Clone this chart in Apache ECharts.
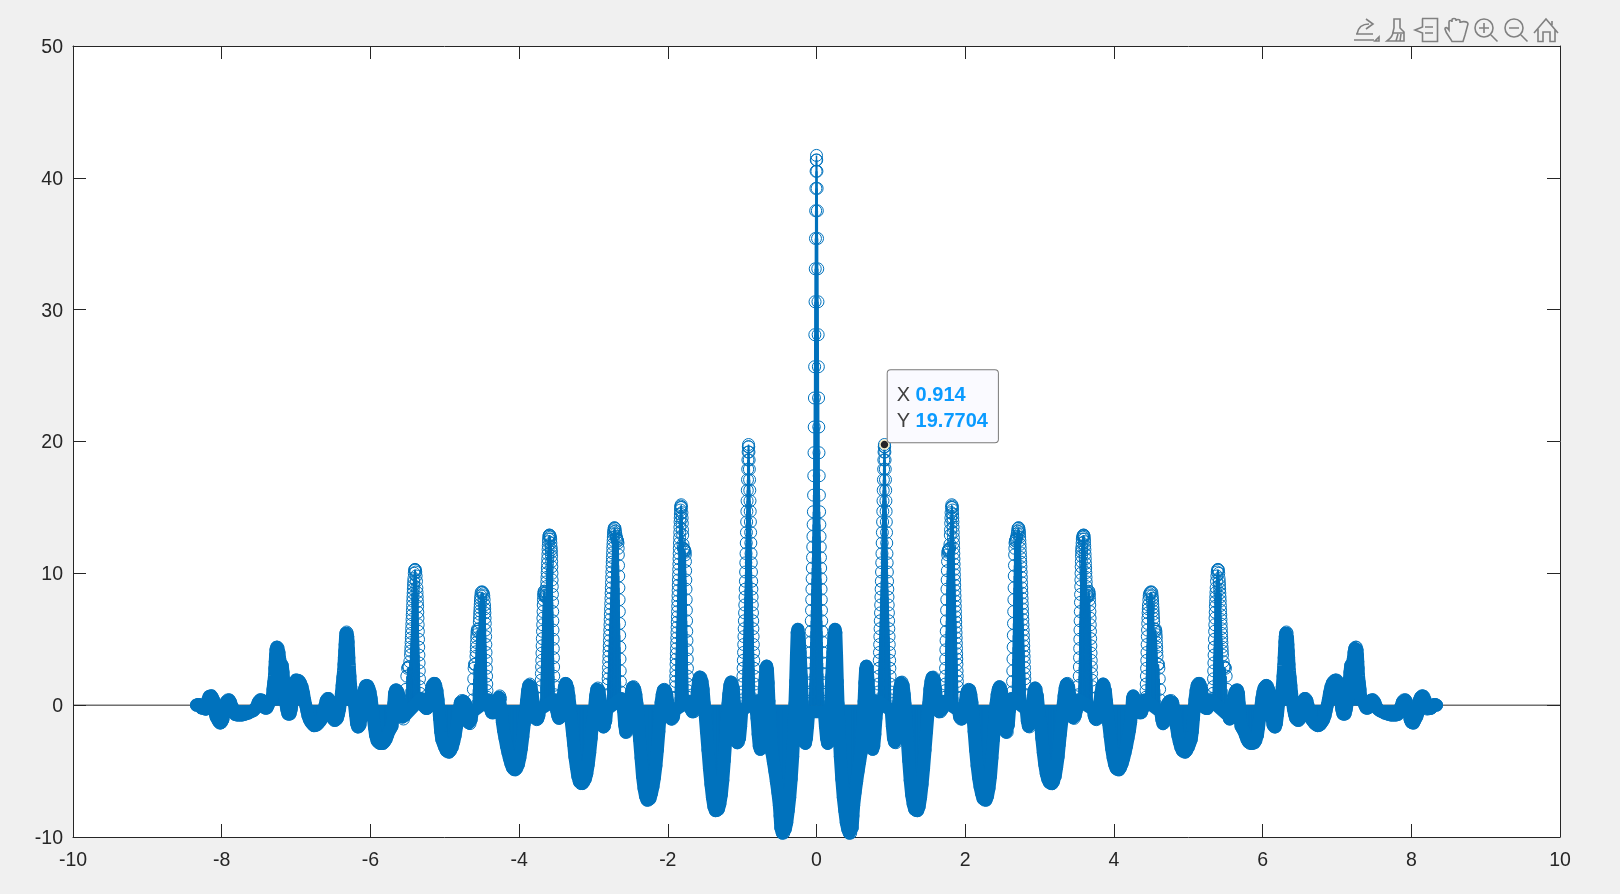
<!DOCTYPE html>
<html>
<head>
<meta charset="utf-8">
<title>stem</title>
<script src="https://cdn.jsdelivr.net/npm/echarts@6/dist/echarts.min.js"></script>
<style>
  html, body { margin: 0; padding: 0; background: #f0f0f0; }
  #main { width: 1620px; height: 894px; }
</style>
</head>
<body>
<div id="main"></div>
<script>
// values, right half only, the plot is mirrored around x = 0
const spike0 = [[0,41.7],[.0028,41.35],[.0056,40.5],[.0084,39.2],[.0112,37.5],[.014,35.4],[.0168,33.1],[.0196,30.6],[.0224,28.1],[.0252,25.67],[.028,23.3],[.0308,21.1],[.0336,19.15],[.0364,17.4],[.0392,15.93],[.042,14.67],[.0448,13.7],[.0476,12.8],[.0504,12],[.0532,11.2],[.056,10.4],[.0588,9.6],[.0616,8.8],[.0644,8],[.0672,7.2],[.07,6.4],[.0728,5.6],[.0756,4.8],[.0784,4],[.0812,3.2],[.084,2.4],[.087,1.7],[.09,1],[.095,.3]];
const valley0 = [[.105,-.5],[.12,-1.6],[.135,-2.5],[.15,-2.9],[.165,-2.5],[.18,-1.2],[.19,.2],[.205,2.2],[.22,4],[.235,5.2],[.25,5.75],[.26,5.5],[.27,3.8],[.28,1.8],[.29,.1],[.30,-1.5],[.32,-3.9],[.34,-5.6],[.36,-7],[.38,-8],[.40,-8.9],[.42,-9.4],[.44,-9.7],[.46,-9.7],[.48,-9.3],[.49,-8.4],[.50,-7.6],[.52,-6.6],[.54,-5.8],[.56,-5],[.58,-4.3],[.60,-3.6],[.615,-2.2],[.63,-.6],[.64,.3],[.65,1.7],[.66,2.7],[.67,2.96],[.68,2.8],[.695,1.8],[.71,.3],[.725,-1.4],[.74,-2.8],[.755,-3.35],[.77,-3.1],[.785,-2.2],[.80,-1],[.815,-.2],[.825,.3]];
const spike1 = [[.83,.4],[.8328,1],[.8356,1.6],[.8384,2.2],[.8412,2.8],[.844,3.4],[.8468,4],[.8496,4.6],[.8524,5.2],[.8552,5.8],[.858,6.4],[.8608,7],[.8636,7.6],[.8664,8.2],[.8692,8.8],[.872,9.4],[.8748,10.1],[.8776,10.8],[.8804,11.5],[.8832,12.3],[.886,13.1],[.8888,13.9],[.8916,14.7],[.8944,15.5],[.8972,16.3],[.9,17.1],[.9028,17.9],[.9056,18.6],[.9084,19.2],[.9112,19.6],[.914,19.77],[.9168,19.6],[.9196,19.2],[.9224,18.6],[.9252,17.9],[.928,17.1],[.9308,16.3],[.9336,15.5],[.9364,14.7],[.9392,13.9],[.942,13.1],[.9448,12.3],[.9476,11.5],[.9504,10.8],[.9532,10.1],[.956,9.4],[.9588,8.8],[.9616,8.2],[.9644,7.6],[.9672,7],[.97,6.4],[.9728,5.8],[.9756,5.2],[.9784,4.6],[.9812,4],[.984,3.4],[.9868,2.8],[.9896,2.2],[.9924,1.6],[.9952,1],[.998,.4]];
const valley1 = [[1.005,-.4],[1.02,-1.6],[1.035,-2.5],[1.05,-2.8],[1.065,-2.85],[1.08,-2.3],[1.095,-1],[1.105,.2],[1.12,1.3],[1.135,1.7],[1.15,1.75],[1.165,1.5],[1.18,.8],[1.19,.1],[1.20,-.9],[1.22,-2.6],[1.24,-4.2],[1.26,-5.7],[1.28,-6.8],[1.30,-7.5],[1.32,-7.9],[1.34,-8],[1.36,-8],[1.38,-7.7],[1.40,-7],[1.42,-6],[1.44,-4.8],[1.46,-3.4],[1.48,-2],[1.50,-.6],[1.51,.1],[1.525,1.2],[1.54,1.8],[1.555,2.1],[1.57,2.13],[1.585,1.9],[1.60,1.2],[1.615,.4],[1.63,-.2],[1.65,-.5],[1.67,-.5],[1.69,-.3],[1.71,0],[1.725,.3]];
const spike2 = [[1.73,.6],[1.7315,1.1],[1.733,1.6],[1.7345,2.2],[1.736,2.8],[1.738,3.5],[1.74,4.2],[1.7425,4.9],[1.745,5.6],[1.7475,6.4],[1.75,7.2],[1.7525,8],[1.755,8.8],[1.7575,9.5],[1.76,10.2],[1.7625,10.9],[1.765,11.4],[1.7675,11.6],[1.77,11.7],[1.775,11.75],[1.78,11.8],[1.785,11.85],[1.79,11.9],[1.795,12.2],[1.80,12.9],[1.8025,13.3],[1.805,13.8],[1.8075,14.2],[1.81,14.6],[1.815,15],[1.82,15.2],[1.825,15.1],[1.827,15],[1.829,14.8],[1.831,14.5],[1.833,14.2],[1.835,13.9],[1.837,13.5],[1.839,13.1],[1.841,12.7],[1.843,12.3],[1.845,11.9],[1.847,11.5],[1.849,11.1],[1.851,10.7],[1.853,10.3],[1.855,9.9],[1.857,9.5],[1.859,9.1],[1.861,8.7],[1.863,8.3],[1.865,7.9],[1.867,7.5],[1.869,7.1],[1.871,6.7],[1.873,6.3],[1.875,5.9],[1.877,5.5],[1.879,5.1],[1.881,4.7],[1.883,4.3],[1.885,3.9],[1.887,3.5],[1.889,3.1],[1.891,2.6],[1.893,2.2],[1.895,1.8],[1.897,1.4],[1.90,.6]];
const valley2 = [[1.91,-.4],[1.925,-.9],[1.94,-1.05],[1.955,-1.05],[1.97,-.8],[1.985,-.3],[2,.2],[2.015,.8],[2.03,1.1],[2.045,1.2],[2.06,1.15],[2.075,.8],[2.09,.2],[2.10,-.5],[2.12,-2],[2.14,-3.4],[2.16,-4.6],[2.18,-5.5],[2.20,-6.2],[2.22,-6.7],[2.24,-7.1],[2.26,-7.2],[2.28,-7.2],[2.30,-6.9],[2.32,-6.3],[2.34,-5.4],[2.36,-4],[2.38,-2.6],[2.40,-1],[2.415,.1],[2.43,.8],[2.445,1.2],[2.46,1.4],[2.475,1.35],[2.49,1],[2.505,.1],[2.52,-.9],[2.535,-1.7],[2.55,-2.05],[2.565,-2.05],[2.58,-1.5],[2.595,-.4],[2.61,.3],[2.625,.5]];
const spike3 = [[2.635,1],[2.6375,1.8],[2.64,2.6],[2.6425,3.5],[2.645,4.4],[2.6475,5.3],[2.65,6.2],[2.6525,7.1],[2.655,8],[2.6575,8.9],[2.66,9.8],[2.6625,10.6],[2.665,11.4],[2.6675,11.9],[2.67,12.3],[2.675,12.45],[2.68,12.5],[2.685,12.6],[2.69,12.7],[2.695,12.8],[2.70,13],[2.705,13.2],[2.71,13.4],[2.715,13.45],[2.72,13.45],[2.725,13.3],[2.7275,13.15],[2.73,13],[2.7325,12.75],[2.735,12.5],[2.7375,12.2],[2.74,11.9],[2.7425,11.55],[2.745,11.2],[2.7475,10.85],[2.75,10.5],[2.7525,10.1],[2.755,9.7],[2.7575,9.3],[2.76,8.9],[2.7625,8.5],[2.765,8.1],[2.7675,7.7],[2.77,7.3],[2.7725,6.9],[2.775,6.5],[2.7775,6.1],[2.78,5.7],[2.7825,5.3],[2.785,4.9],[2.7875,4.5],[2.79,4.1],[2.7925,3.7],[2.795,3.3],[2.7975,2.85],[2.80,2.4],[2.8025,2],[2.805,1.6],[2.81,.8]];
const valley3 = [[2.82,-.3],[2.835,-1.2],[2.85,-1.6],[2.865,-1.65],[2.88,-1.3],[2.895,-.5],[2.91,.4],[2.925,1.1],[2.94,1.3],[2.955,1.2],[2.97,.7],[2.985,-.2],[3,-.9],[3.015,-1.4],[3.03,-2.5],[3.05,-3.6],[3.07,-4.5],[3.09,-5.2],[3.11,-5.6],[3.13,-5.85],[3.15,-5.95],[3.17,-5.95],[3.19,-5.8],[3.21,-5.4],[3.23,-4.7],[3.25,-3.9],[3.265,-3],[3.28,-2.2],[3.30,-1.2],[3.315,-.1],[3.33,.7],[3.345,1.3],[3.36,1.6],[3.375,1.65],[3.39,1.4],[3.405,.8],[3.42,0],[3.435,-.6],[3.45,-.95],[3.465,-1],[3.48,-.8],[3.495,-.4],[3.51,.2],[3.52,.4]];
const spike4 = [[3.53,.8],[3.532,1.5],[3.534,2.2],[3.536,2.9],[3.538,3.6],[3.54,4.3],[3.542,5],[3.544,5.7],[3.546,6.4],[3.548,7.1],[3.55,7.8],[3.552,8.4],[3.554,9],[3.556,9.5],[3.558,10],[3.56,10.5],[3.562,10.9],[3.564,11.3],[3.566,11.6],[3.568,11.8],[3.57,12],[3.5725,12.3],[3.575,12.6],[3.58,12.75],[3.585,12.85],[3.59,12.9],[3.595,12.9],[3.60,12.8],[3.6025,12.6],[3.605,12.4],[3.6075,12.1],[3.61,11.8],[3.6125,11.45],[3.615,11.1],[3.6175,10.75],[3.62,10.4],[3.6225,10.05],[3.625,9.7],[3.6275,9.35],[3.63,9],[3.635,8.6],[3.64,8.3],[3.645,8.2],[3.65,8.3],[3.655,8.5],[3.66,8.65],[3.665,8.6],[3.6675,8.45],[3.67,8.3],[3.6725,8],[3.675,7.6],[3.6775,7.1],[3.68,6.6],[3.6825,6.1],[3.685,5.6],[3.6875,5.05],[3.69,4.5],[3.6925,3.95],[3.695,3.4],[3.6975,2.9],[3.70,2.4],[3.7025,1.9],[3.705,1.4],[3.71,.5]];
const valley4 = [[3.72,-.3],[3.735,-.8],[3.75,-1.05],[3.765,-1.1],[3.78,-1],[3.795,-.5],[3.81,.2],[3.825,.9],[3.84,1.4],[3.855,1.6],[3.87,1.5],[3.885,1.1],[3.90,.3],[3.915,-.6],[3.93,-1.4],[3.95,-2.4],[3.97,-3.3],[3.99,-4],[4.01,-4.5],[4.03,-4.8],[4.05,-4.9],[4.07,-4.9],[4.09,-4.75],[4.11,-4.45],[4.13,-4.05],[4.15,-3.6],[4.17,-3.1],[4.19,-2.5],[4.21,-1.9],[4.225,-1.3],[4.24,-.4],[4.25,.5],[4.26,.7],[4.27,.6],[4.285,.3],[4.30,0],[4.32,-.3],[4.34,-.55],[4.355,-.6],[4.37,-.55],[4.385,-.3],[4.40,.1],[4.415,.4]];
const spike5 = [[4.43,.6],[4.4325,1.1],[4.435,1.6],[4.4375,2.2],[4.44,2.8],[4.4425,3.4],[4.445,4],[4.4475,4.6],[4.45,5.2],[4.4525,5.7],[4.455,6.2],[4.4575,6.6],[4.46,7],[4.4625,7.3],[4.465,7.6],[4.47,8],[4.475,8.3],[4.48,8.45],[4.49,8.55],[4.50,8.6],[4.51,8.55],[4.515,8.3],[4.5175,8.1],[4.52,7.9],[4.5225,7.65],[4.525,7.4],[4.5275,7.15],[4.53,6.9],[4.5325,6.6],[4.535,6.3],[4.54,5.8],[4.55,5.6],[4.56,5.75],[4.565,5.6],[4.5675,5.35],[4.57,5.1],[4.5725,4.75],[4.575,4.4],[4.5775,4.05],[4.58,3.7],[4.59,3.1],[4.60,3.1],[4.605,2.8],[4.61,2],[4.615,1.2],[4.62,.4]];
const valley5 = [[4.63,-.5],[4.645,-1.1],[4.66,-1.4],[4.675,-1.35],[4.69,-.9],[4.705,-.3],[4.72,.1],[4.735,.25],[4.75,.3],[4.77,.35],[4.79,.2],[4.805,-.2],[4.82,-.8],[4.84,-1.6],[4.86,-2.3],[4.88,-2.8],[4.90,-3.2],[4.92,-3.45],[4.94,-3.55],[4.96,-3.55],[4.98,-3.45],[5,-3.2],[5.02,-2.9],[5.04,-2.6],[5.055,-2],[5.07,-1],[5.08,-.2],[5.09,.4],[5.105,1.1],[5.12,1.5],[5.135,1.65],[5.15,1.65],[5.165,1.5],[5.18,1.1],[5.195,.4],[5.21,0],[5.225,-.2],[5.24,-.25],[5.255,-.25],[5.27,-.15],[5.285,.1],[5.30,.4],[5.32,.5]];
const spike6 = [[5.335,.9],[5.3375,1.4],[5.34,2],[5.3425,2.6],[5.345,3.2],[5.3475,3.8],[5.35,4.4],[5.3525,5],[5.355,5.6],[5.3575,6.1],[5.36,6.6],[5.3625,7.05],[5.365,7.5],[5.3675,7.85],[5.37,8.2],[5.3725,8.55],[5.375,8.9],[5.38,9.4],[5.385,9.8],[5.39,10.1],[5.395,10.25],[5.40,10.3],[5.405,10.25],[5.41,10],[5.415,9.6],[5.4175,9.35],[5.42,9.1],[5.4225,8.8],[5.425,8.5],[5.4275,8.2],[5.43,7.9],[5.4325,7.55],[5.435,7.2],[5.4375,6.85],[5.44,6.5],[5.4425,6.15],[5.445,5.8],[5.4475,5.45],[5.45,5.1],[5.4525,4.75],[5.455,4.4],[5.4575,4.1],[5.46,3.8],[5.47,3.3],[5.48,2.9],[5.49,2.9],[5.50,2.8],[5.51,2.2],[5.52,1.2],[5.53,.2]];
const valley6 = [[5.54,-.8],[5.555,-1.05],[5.57,-.9],[5.585,-.4],[5.60,.2],[5.615,.7],[5.63,1],[5.645,1.15],[5.66,1.15],[5.675,.9],[5.685,.1],[5.695,-1],[5.71,-1.6],[5.73,-1.8],[5.75,-2],[5.77,-2.3],[5.79,-2.6],[5.81,-2.8],[5.83,-2.9],[5.85,-2.9],[5.87,-2.9],[5.89,-2.85],[5.91,-2.7],[5.93,-2.3],[5.945,-1.7],[5.96,-1],[5.975,-.2],[5.99,.5],[6.005,1],[6.02,1.3],[6.035,1.45],[6.05,1.5],[6.065,1.45],[6.08,1.2],[6.095,.7],[6.11,0],[6.125,-.9],[6.14,-1.5],[6.155,-1.65],[6.17,-1.65],[6.185,-1.4],[6.20,-.7],[6.215,.1]];
const spike7 = [[6.23,.3],[6.25,.8],[6.265,1.4],[6.275,2.2],[6.285,3],[6.29,3.6],[6.295,4.2],[6.30,4.8],[6.305,5.2],[6.31,5.45],[6.32,5.55],[6.33,5.45],[6.335,5.1],[6.34,4.6],[6.345,4.1],[6.35,3.6],[6.355,3.1],[6.36,2.6],[6.37,2.1],[6.38,1.5],[6.39,.9],[6.40,.3]];
const valley7 = [[6.415,-.3],[6.43,-.7],[6.445,-1],[6.46,-1.1],[6.475,-1.15],[6.49,-1.15],[6.505,-1],[6.52,-.6],[6.535,-.1],[6.55,.3],[6.565,.5],[6.58,.5],[6.595,.35],[6.61,0],[6.625,-.5],[6.64,-.9],[6.66,-1.1],[6.68,-1.25],[6.70,-1.4],[6.72,-1.5],[6.74,-1.55],[6.76,-1.55],[6.78,-1.45],[6.80,-1.3],[6.82,-1.1],[6.84,-.8],[6.855,-.4],[6.87,0],[6.885,.4],[6.90,.9],[6.92,1.4],[6.94,1.7],[6.96,1.85],[6.98,1.9],[7,1.9],[7.02,1.7],[7.035,1.2],[7.05,.4],[7.065,-.3],[7.08,-.65],[7.095,-.7],[7.11,-.65],[7.125,-.3],[7.14,.2],[7.155,.9]];
const spike8 = [[7.165,1.8],[7.175,2.5],[7.185,3],[7.195,3.1],[7.205,3.1],[7.21,3.2],[7.22,3.5],[7.23,4],[7.24,4.3],[7.25,4.4],[7.26,4.4],[7.27,4.2],[7.275,3.8],[7.28,3.3],[7.285,2.8],[7.29,2.2],[7.30,1.7],[7.31,1.2],[7.32,.6],[7.33,.4],[7.345,.3],[7.36,.2],[7.375,0]];
const tail = [[7.39,-.2],[7.405,-.25],[7.42,-.2],[7.435,.1],[7.45,.35],[7.465,.4],[7.48,.4],[7.495,.35],[7.51,.2],[7.53,-.1],[7.55,-.3],[7.57,-.4],[7.59,-.45],[7.61,-.5],[7.64,-.6],[7.67,-.65],[7.70,-.7],[7.73,-.75],[7.76,-.75],[7.79,-.75],[7.82,-.7],[7.84,-.5],[7.86,-.1],[7.88,.25],[7.90,.4],[7.92,.4],[7.94,.25],[7.955,-.2],[7.97,-.7],[7.985,-1.1],[8,-1.3],[8.015,-1.35],[8.03,-1.35],[8.045,-1.2],[8.06,-1],[8.075,-.9],[8.09,-.6],[8.10,0],[8.11,.4],[8.125,.6],[8.14,.7],[8.155,.7],[8.17,.65],[8.185,.4],[8.20,-.2],[8.215,-.3],[8.23,-.25],[8.245,-.2],[8.26,-.25],[8.275,-.2],[8.29,-.1],[8.305,.05],[8.32,.05],[8.34,0]];

const tipPoint = [0.914, 19.7704];
const xTicks = { min: -10, max: 10, interval: 2 };
const yTicks = { min: -10, max: 50, interval: 10 };

const blue = "#0072BD";
const ink = "#262626";

const mirror = (half) => half.filter((p) => p[0] > 0).map((p) => [-p[0], p[1]]).reverse().concat(half);

// the tall spikes keep open rings, everywhere else the rings overlap into a solid band
const ringPoints = mirror([].concat(spike0, spike1, spike2, spike3, spike4, spike5, spike6));
const solidPoints = mirror([].concat(valley0, valley1, valley2, valley3, valley4, valley5, valley6, spike7, valley7, spike8, tail));

// toolbar icons, plain outlines
const iconPaths = [
  "M1354 40H1374M1356 34H1373M1357 34C1358 28 1362 24 1369 24M1366 19L1373 24L1366 29M1375 41H1379V37Z",
  "M1394 19H1400V28L1404 32V41H1387C1391 38 1393 35 1393 32L1394 28ZM1392 33H1404M1396 41L1398 34M1400 41L1401 34",
  "M1422 18.5H1437.5V41.5H1422.5V33L1415 30L1422.5 27V18.5ZM1425 27H1433M1425 33H1433",
  "M1452 41.5C1450 37 1446 34 1445 29C1445 27 1447 27 1449 30V22C1449 20 1452 20 1452 22V20C1452 18 1456 18 1456 20V21C1456 19 1460 19 1460 21V23C1460 21 1468 21 1468 24L1465 35L1463 41.5Z",
  "M1493 28A9 9 0 1 1 1475 28A9 9 0 1 1 1493 28ZM1491 35L1497.5 41.5M1479 28H1489M1484 23V33",
  "M1523 28A9 9 0 1 1 1505 28A9 9 0 1 1 1523 28ZM1521 35L1527.5 41.5M1509 28H1519",
  "M1534 33L1546 19L1558 33M1538 29V41.5H1543V32H1550V41.5H1555V29M1552 21V25",
];
iconPaths.forEach((d, i) => {
  echarts.graphic.registerShape("toolIcon" + i, echarts.graphic.extendPath(d));
});

const frameAxis = (ticks, position, withLabels, type) => ({
  type: "value",
  position: position,
  min: ticks.min,
  max: ticks.max,
  interval: ticks.interval,
  splitLine: { show: false },
  axisLine: { show: true, onZero: false, lineStyle: { color: ink, width: 1 } },
  axisTick: { show: true, inside: true, length: 13, lineStyle: { color: ink, width: 1 } },
  axisLabel: type === "x"
    ? { show: withLabels, color: ink, fontFamily: "Liberation Sans", fontSize: 19.5, margin: 14 }
    : { show: withLabels, color: ink, fontFamily: "Liberation Sans", fontSize: 19.5, margin: 10, verticalAlign: "top", lineHeight: 3 },
});

const stemRenderer = (width) => (params, api) => {
  const top = api.coord([api.value(0), api.value(1)]);
  const base = api.coord([api.value(0), 0]);
  return {
    type: "line",
    shape: { x1: base[0], y1: base[1], x2: top[0], y2: top[1] },
    style: { stroke: blue, lineWidth: width },
  };
};

const chart = echarts.init(document.getElementById("main"), null, { renderer: "canvas" });
chart.setOption({
  animation: false,
  backgroundColor: "#f0f0f0",
  grid: { left: 73, right: 60, top: 46, bottom: 57, backgroundColor: "#fff", show: true, borderWidth: 0 },
  xAxis: [frameAxis(xTicks, "bottom", true, "x"), frameAxis(xTicks, "top", false, "x")],
  yAxis: [frameAxis(yTicks, "left", true, "y"), frameAxis(yTicks, "right", false, "y")],
  graphic: iconPaths.map((d, i) => ({
    type: "toolIcon" + i,
    silent: true,
    style: { fill: "none", stroke: "#808080", lineWidth: 1.6 },
  })),
  series: [
    {
      name: "baseline",
      type: "line",
      z: 1,
      symbol: "none",
      data: [[xTicks.min, 0], [xTicks.max, 0]],
      lineStyle: { color: ink, width: 1 },
    },
    {
      name: "spike stems",
      type: "custom",
      z: 2,
      renderItem: stemRenderer(1.5),
      data: ringPoints,
    },
    {
      name: "band stems",
      type: "custom",
      z: 2,
      renderItem: stemRenderer(3.5),
      data: solidPoints,
    },
    {
      // 13 px wide, same as the rings, so the overlapping rings read as one band
      name: "band",
      type: "line",
      z: 3,
      symbol: "none",
      data: solidPoints,
      lineStyle: { color: blue, width: 13, cap: "round", join: "round" },
    },
    {
      name: "markers",
      type: "scatter",
      z: 4,
      symbol: "circle",
      symbolSize: 12,
      data: ringPoints.concat(solidPoints),
      itemStyle: { color: "rgba(0,0,0,0)", borderColor: blue, borderWidth: 1, opacity: 1 },
    },
    {
      name: "datatip",
      type: "scatter",
      z: 10,
      symbol: "circle",
      symbolSize: 9,
      data: [tipPoint],
      itemStyle: { color: ink, borderColor: "#f6f0c8", borderWidth: 1.5, opacity: 1 },
      label: {
        show: true,
        position: [8.5, 3],
        align: "left",
        verticalAlign: "bottom",
        formatter: () => "{k|X }{v|" + tipPoint[0] + "}\n{k|Y }{v|" + tipPoint[1] + "}",
        backgroundColor: "#fafaff",
        borderColor: "#7a7a7a",
        borderWidth: 1,
        borderRadius: 3,
        padding: [12, 10, 8, 9],
        rich: {
          k: { fontFamily: "Liberation Sans", fontSize: 20, color: "#404040", lineHeight: 26 },
          v: { fontFamily: "Liberation Sans", fontSize: 20, fontWeight: "bold", color: "#0a9bff", lineHeight: 26 },
        },
      },
    },
  ],
});
</script>
</body>
</html>
